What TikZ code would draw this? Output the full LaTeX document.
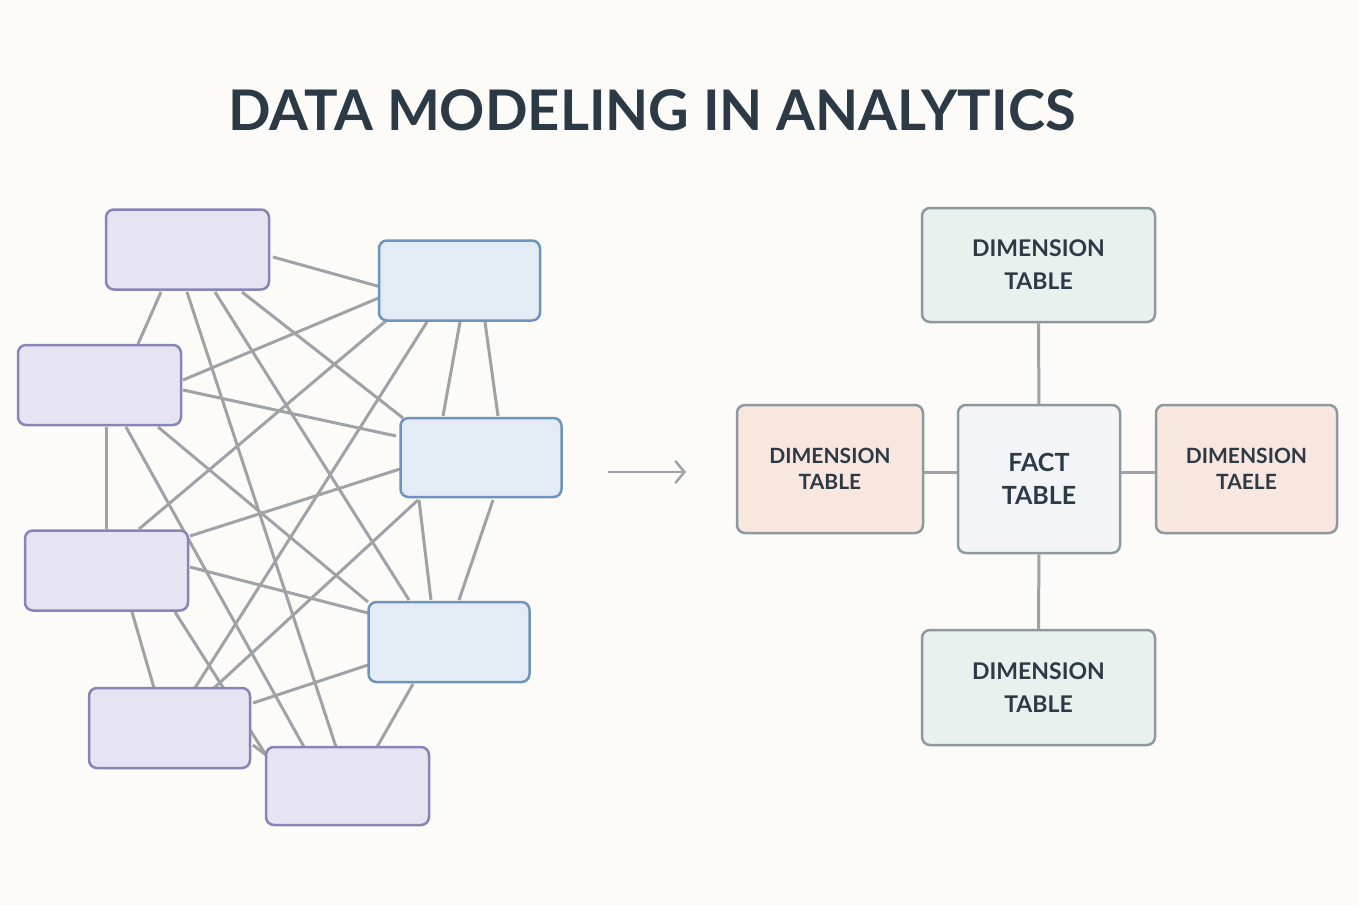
\documentclass[tikz,border=0pt]{standalone}
\usepackage{fontspec}
\setmainfont{Lato}
\usetikzlibrary{arrows.meta}
\definecolor{bg}{HTML}{FCFBF8}
\definecolor{pf}{HTML}{E6E3F2}\definecolor{pd}{HTML}{8784B8}
\definecolor{bf}{HTML}{E3EBF4}\definecolor{bd}{HTML}{6C94BC}
\definecolor{gf}{HTML}{E8F1EE}\definecolor{gd}{HTML}{8C9AA0}
\definecolor{rf}{HTML}{F9E6DF}\definecolor{ff}{HTML}{F3F4F8}
\definecolor{ln}{HTML}{A0A3A6}\definecolor{tx}{HTML}{2B3A44}
\begin{document}
\begin{tikzpicture}[x=1pt,y=-1pt,
 box/.style={draw, line width=2.5pt, rounded corners=8pt, anchor=center},
 pbox/.style={box, fill=pf, draw=pd, minimum width=163pt, minimum height=80pt},
 bbox/.style={box, fill=bf, draw=bd, minimum width=161pt, minimum height=80pt},
 dbox/.style={box, draw=gd, text=tx, font=\fontsize{21}{26}\selectfont\bfseries, align=center},
 link/.style={draw=ln, line width=3pt}]
\fill[bg] (0,0) rectangle (1358,905);
\useasboundingbox (0,0) rectangle (1358,905);
\node[font=\fontsize{56}{60}\selectfont\bfseries, text=tx] (title) at (652,110) {DATA MODELING IN ANALYTICS};
% network coordinates (centers)
\coordinate (p1) at (187.5,249.5);\coordinate (p2) at (99.5,385);
\coordinate (p3) at (106.5,570.5);\coordinate (p4) at (169.5,728);
\coordinate (p5) at (347.5,786);\coordinate (b1) at (459.5,280.5);
\coordinate (b2) at (481,457.5);\coordinate (b3) at (449,642);
\foreach \a/\ax/\ay/\b/\bx/\by in {
p1/85.5/7.5/b1/-78.5/6.5, p1/-26.5/42.5/p2/38.5/-41, p1/-0.5/42.5/p5/-11.5/-39,
p1/27.5/42.5/b3/-40/-42, p1/54.5/42.5/b2/-78/-39.5, p2/83.5/-5/b1/-78.5/16.5,
p2/83.5/5/b2/-85/-21.5, p2/6.5/42/p3/-0.5/-41.5, p2/26.5/42/p5/-43.5/-39,
p2/58.5/42/b3/-81/-40, b1/-72.5/39.5/p3/32.5/-41.5, b1/-32.5/41.5/p4/25.5/-40,
b1/0.5/41.5/b2/-38/-41.5, b1/25.5/41.5/b2/17/-41.5, p3/83.5/-34.5/b2/-81/11.5,
p3/83.5/-3.5/b3/-81/-29, p3/25.5/41.5/p4/-15.5/-40, p3/68.5/41.5/p5/-81.5/-31,
b2/-62/42.5/b3/-18/-42, b2/12/42.5/b3/10/-42, b2/-63/42.5/p4/44.5/-40,
b3/-81/23/p4/83.5/-25, b3/-36/42/p5/29.5/-39, p4/83.5/17/p5/-81.5/-31}
 \draw[link] ([shift={(\ax,\ay)}]\a) -- ([shift={(\bx,\by)}]\b);
\node[pbox] (P1) at (p1) {};
\node[pbox] (P2) at (p2) {};
\node[pbox] (P3) at (p3) {};
\node[pbox, minimum width=161pt] (P4) at (p4) {};
\node[pbox, minimum height=78pt] (P5) at (p5) {};
\node[bbox] (B1) at (b1) {};
\node[bbox, minimum height=79pt] (B2) at (b2) {};
\node[bbox] (B3) at (b3) {};
% arrow
\coordinate (a1) at (608,472);\coordinate (a2) at (686,472);
\draw[link, line width=2.5pt, -{Straight Barb[length=9pt,width=22pt,line width=2.5pt]}] (a1) -- (a2);
% star schema
\node[dbox, fill=ff, minimum width=162pt, minimum height=148pt, font=\fontsize{25}{33}\selectfont\bfseries] (F) at (1039,479) {FACT\\TABLE};
\node[dbox, fill=gf, minimum width=233pt, minimum height=114pt, font=\fontsize{23}{33}\selectfont\bfseries] (T) at (1038.5,265) {DIMENSION\\TABLE};
\node[dbox, fill=gf, minimum width=233pt, minimum height=115pt, font=\fontsize{23}{33}\selectfont\bfseries] (B) at (1038.5,687.5) {DIMENSION\\TABLE};
\node[dbox, fill=rf, minimum width=186pt, minimum height=128pt] (L) at (830,469) {DIMENSION\\TABLE};
\node[dbox, fill=rf, minimum width=181pt, minimum height=128pt] (R) at (1246.5,469) {DIMENSION\\TAELE};
\draw[link] (T) -- (F);
\draw[link] (F) -- (B);
\draw[link] (L.east |- 0,472) -- (F.west |- 0,472);
\draw[link] (F.east |- 0,472) -- (R.west |- 0,472);
\end{tikzpicture}
\end{document}
